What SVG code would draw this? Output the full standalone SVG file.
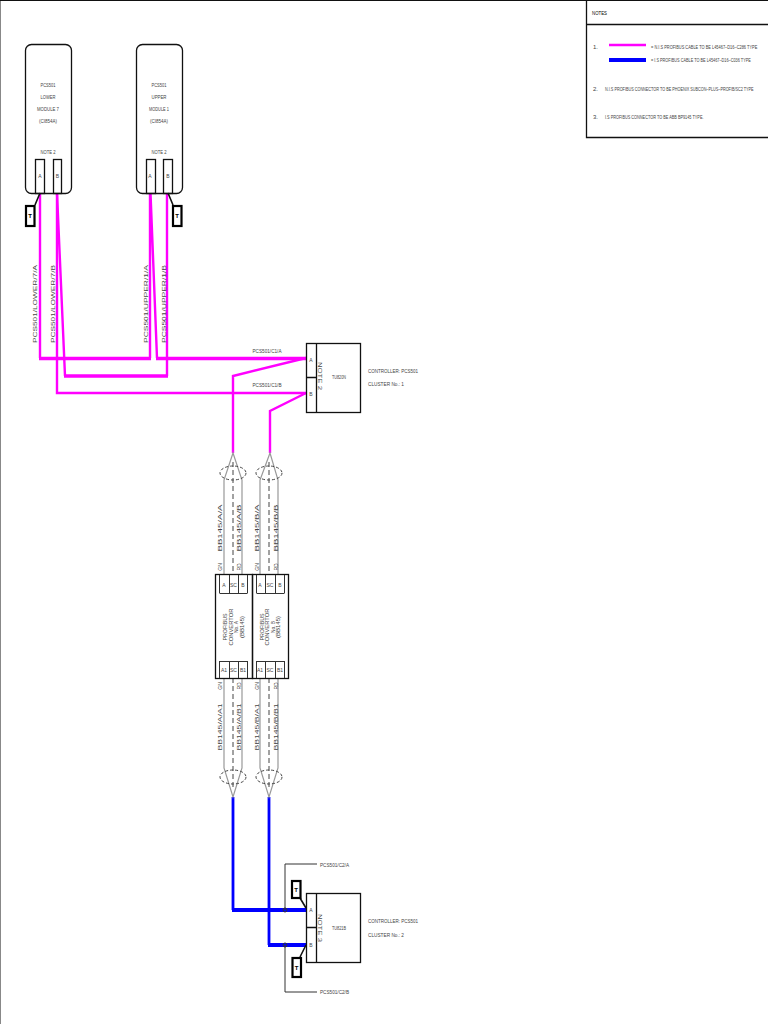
<svg xmlns="http://www.w3.org/2000/svg" width="768" height="1024" viewBox="0 0 768 1024">
<style>
text{font-family:"Liberation Sans",Arial,sans-serif;font-size:6px;fill:#444}
.s{font-size:5px}
.r{font-size:4.500px}
.b{fill:none;stroke:#111;stroke-width:1.3}
.g{fill:none;stroke:#999;stroke-width:1.2}
.k{fill:none;stroke:#333;stroke-width:1}
.h{fill:none;stroke:#111;stroke-width:1.6}
.d{fill:none;stroke:#444;stroke-width:1;stroke-dasharray:5 3}
.e{fill:none;stroke:#444;stroke-width:1;stroke-dasharray:3 2}
.m{fill:none;stroke:#f0f;stroke-width:2.4}
.mt{fill:none;stroke:#f0f;stroke-width:3.6}
.bl{fill:none;stroke:#00f;stroke-width:2.8}
.bt{fill:none;stroke:#00f;stroke-width:4}
.c{text-anchor:middle}
.t{fill:#fff;stroke:#000;stroke-width:2.2}
.tt{font-size:6px;font-weight:bold;fill:#000;text-anchor:middle}
</style>
<rect width="768" height="1024" fill="#fff"/>
<path d="M0.5 0V1024" stroke="#888" stroke-width="1" fill="none"/>
<path d="M0 0.500H768" stroke="#111" stroke-width="1" fill="none"/>

<g id="connectors">
<path class="m" d="M40 193V358M150 193V358M150.500 193L157 358M57 193L65 376M167 193V376"/>
<path class="mt" d="M39 358.500H151M156 358.500H306M64 376H168"/>
<path class="m" d="M57 193V393H306"/>
<path class="m" d="M233 453V376L306 358"/>
<path class="m" d="M270 453V411L306 393"/>
<path class="bl" d="M233 797V910M269 797V945"/>
<path class="bt" d="M232 910H306M268 945H306"/>
<path class="k" d="M285 910V864H317"/>
<path class="k" d="M285 945V992H317"/>
<circle class="k" cx="285" cy="910" r="2"/>
<circle class="k" cx="285" cy="945" r="2"/>
<path class="h" d="M40 193L35 205M168 193L173 205M306 908L300 898M306 945L300 957"/>
</g>

<g id="cables">
<path class="g" d="M224 490V480L233 453L242 480V490M224 490V574M242 490V574"/>
<path class="d" d="M233 462V574"/>
<ellipse class="e" cx="233" cy="473" rx="13" ry="7"/>
<path class="g" d="M260 490V480L270 453L278 480V490M260 490V574M278 490V574"/>
<path class="d" d="M269 462V574"/>
<ellipse class="e" cx="269" cy="473" rx="13" ry="7"/>
<path class="g" d="M224 678V768L233 797L242 768V678"/>
<path class="d" d="M233 678V788"/>
<ellipse class="e" cx="233" cy="777" rx="13" ry="7"/>
<path class="g" d="M260 678V768L269 797L278 768V678"/>
<path class="d" d="M269 678V788"/>
<ellipse class="e" cx="269" cy="777" rx="13" ry="7"/>
<text transform="translate(222 528) rotate(-90)" class="c r" textLength="47" lengthAdjust="spacingAndGlyphs">BB145/A/A</text>
<text transform="translate(241 528) rotate(-90)" class="c r" textLength="47" lengthAdjust="spacingAndGlyphs">BB145/A/B</text>
<text transform="translate(259 528) rotate(-90)" class="c r" textLength="47" lengthAdjust="spacingAndGlyphs">BB145/B/A</text>
<text transform="translate(278 528) rotate(-90)" class="c r" textLength="47" lengthAdjust="spacingAndGlyphs">BB145/B/B</text>
<text transform="translate(222 727) rotate(-90)" class="c r" textLength="47" lengthAdjust="spacingAndGlyphs">BB145/A/A1</text>
<text transform="translate(241 727) rotate(-90)" class="c r" textLength="47" lengthAdjust="spacingAndGlyphs">BB145/A/B1</text>
<text transform="translate(259 727) rotate(-90)" class="c r" textLength="47" lengthAdjust="spacingAndGlyphs">BB145/B/A1</text>
<text transform="translate(278 727) rotate(-90)" class="c r" textLength="47" lengthAdjust="spacingAndGlyphs">BB145/B/B1</text>
<text transform="translate(222 567) rotate(-90)" class="c s">GN</text>
<text transform="translate(241 567) rotate(-90)" class="c s">RD</text>
<text transform="translate(259 567) rotate(-90)" class="c s">GN</text>
<text transform="translate(278 567) rotate(-90)" class="c s">RD</text>
<text transform="translate(222 686) rotate(-90)" class="c s">GN</text>
<text transform="translate(241 686) rotate(-90)" class="c s">RD</text>
<text transform="translate(259 686) rotate(-90)" class="c s">GN</text>
<text transform="translate(278 686) rotate(-90)" class="c s">RD</text>
</g>

<g id="cable-labels">
<text transform="translate(37 304) rotate(-90)" class="c r" textLength="78" lengthAdjust="spacingAndGlyphs">PCS501/LOWER/7/A</text>
<text transform="translate(55 304) rotate(-90)" class="c r" textLength="78" lengthAdjust="spacingAndGlyphs">PCS501/LOWER/7/B</text>
<text transform="translate(148 304) rotate(-90)" class="c r" textLength="78" lengthAdjust="spacingAndGlyphs">PCS501/UPPER/1/A</text>
<text transform="translate(166 304) rotate(-90)" class="c r" textLength="78" lengthAdjust="spacingAndGlyphs">PCS501/UPPER/1/B</text>
<text x="267" y="353" class="c" textLength="29" lengthAdjust="spacingAndGlyphs">PCS501/C1/A</text>
<text x="267" y="387" class="c" textLength="29" lengthAdjust="spacingAndGlyphs">PCS501/C1/B</text>
<text x="320" y="867" textLength="29" lengthAdjust="spacingAndGlyphs">PCS501/C2/A</text>
<text x="320" y="994" textLength="29" lengthAdjust="spacingAndGlyphs">PCS501/C2/B</text>
</g>

<g id="module-lower">
<rect class="b" x="25.500" y="44.500" width="46" height="149" rx="6"/>
<rect class="b" x="35.500" y="159.500" width="9" height="34"/>
<rect class="b" x="53.500" y="159.500" width="8" height="34"/>
<text x="48" y="87" class="c" textLength="15" lengthAdjust="spacingAndGlyphs">PCS501</text>
<text x="48" y="99" class="c" textLength="15" lengthAdjust="spacingAndGlyphs">LOWER</text>
<text x="48" y="111" class="c" textLength="22" lengthAdjust="spacingAndGlyphs">MODULE 7</text>
<text x="48" y="123" class="c" textLength="18" lengthAdjust="spacingAndGlyphs">(CI854A)</text>
<text x="48" y="154" class="c" textLength="15" lengthAdjust="spacingAndGlyphs">NOTE 2</text>
<text x="40" y="178" class="c s">A</text>
<text x="57.500" y="178" class="c s">B</text>
</g>
<g id="module-upper">
<rect class="b" x="136.500" y="44.500" width="46" height="149" rx="6"/>
<rect class="b" x="146.500" y="159.500" width="9" height="34"/>
<rect class="b" x="163.500" y="159.500" width="9" height="34"/>
<text x="159" y="87" class="c" textLength="15" lengthAdjust="spacingAndGlyphs">PCS501</text>
<text x="159" y="99" class="c" textLength="15" lengthAdjust="spacingAndGlyphs">UPPER</text>
<text x="159" y="111" class="c" textLength="20" lengthAdjust="spacingAndGlyphs">MODULE 1</text>
<text x="159" y="123" class="c" textLength="18" lengthAdjust="spacingAndGlyphs">(CI854A)</text>
<text x="159" y="154" class="c" textLength="15" lengthAdjust="spacingAndGlyphs">NOTE 2</text>
<text x="150" y="178" class="c s">A</text>
<text x="168" y="178" class="c s">B</text>
</g>
<g id="term-1"><rect class="t" x="26" y="206" width="8.500" height="20"/><text x="30.200" y="218" class="tt">T</text></g>
<g id="term-2"><rect class="t" x="173" y="206" width="8.500" height="20"/><text x="177.200" y="218" class="tt">T</text></g>
<g id="term-3"><rect class="t" x="292" y="881" width="8.500" height="17"/><text x="296.200" y="892" class="tt">T</text></g>
<g id="term-4"><rect class="t" x="292.500" y="958" width="8.500" height="19"/><text x="296.700" y="970" class="tt">T</text></g>

<g id="controller-1">
<rect class="b" x="306.500" y="343.500" width="54" height="69"/>
<path class="b" d="M316.500 343V412M307 377.500H316"/>
<text x="311" y="362" class="c s">A</text>
<text x="311" y="396" class="c s">B</text>
<text transform="translate(317.500 376) rotate(90)" class="c r" textLength="28" lengthAdjust="spacingAndGlyphs">NOTE 2</text>
<text x="339" y="379" class="c" textLength="14" lengthAdjust="spacingAndGlyphs">TU820N</text>
<text x="368" y="373" textLength="50" lengthAdjust="spacingAndGlyphs">CONTROLLER: PCS501</text>
<text x="368" y="386" textLength="36" lengthAdjust="spacingAndGlyphs">CLUSTER No.: 1</text>
</g>
<g id="controller-2">
<rect class="b" x="306.500" y="893.500" width="54" height="69"/>
<path class="b" d="M316.500 893V962M307 927.500H316"/>
<text x="311" y="912" class="c s">A</text>
<text x="311" y="947" class="c s">B</text>
<text transform="translate(317.500 928) rotate(90)" class="c r" textLength="28" lengthAdjust="spacingAndGlyphs">NOTE 3</text>
<text x="339" y="930" class="c" textLength="14" lengthAdjust="spacingAndGlyphs">TU821B</text>
<text x="368" y="923" textLength="50" lengthAdjust="spacingAndGlyphs">CONTROLLER: PCS501</text>
<text x="368" y="937" textLength="36" lengthAdjust="spacingAndGlyphs">CLUSTER No.: 2</text>
</g>

<g id="converter-a">
<rect class="b" x="215.500" y="574.500" width="37" height="104"/>
<path class="k" d="M219.500 593.500H247.500M229.500 575V593M238.500 575V593M219.500 575V593M247.500 575V593"/>
<path class="k" d="M219.500 661.500H247.500M229.500 661V678M238.500 661V678M219.500 661V678M247.500 661V678"/>
<text x="224" y="587" class="c s">A</text><text x="233.500" y="587" class="c s">SC</text><text x="243" y="587" class="c s">B</text>
<text x="224" y="672" class="c s">A1</text><text x="233.500" y="672" class="c s">SC</text><text x="243" y="672" class="c s">B1</text>
<text transform="translate(227 627) rotate(-90)" class="c r" textLength="27" lengthAdjust="spacingAndGlyphs">PROFIBUS</text>
<text transform="translate(232.500 627) rotate(-90)" class="c r" textLength="37" lengthAdjust="spacingAndGlyphs">CONVERTOR</text>
<text transform="translate(238 627) rotate(-90)" class="c r" textLength="12" lengthAdjust="spacingAndGlyphs">No. A</text>
<text transform="translate(243.500 627) rotate(-90)" class="c r" textLength="22" lengthAdjust="spacingAndGlyphs">(BB145)</text>
</g>
<g id="converter-b">
<rect class="b" x="252.500" y="574.500" width="36" height="104"/>
<path class="k" d="M256.500 593.500H284.500M265.500 575V593M275.500 575V593M256.500 575V593M284.500 575V593"/>
<path class="k" d="M256.500 661.500H284.500M265.500 661V678M275.500 661V678M256.500 661V678M284.500 661V678"/>
<text x="260" y="587" class="c s">A</text><text x="270" y="587" class="c s">SC</text><text x="280" y="587" class="c s">B</text>
<text x="260" y="672" class="c s">A1</text><text x="270" y="672" class="c s">SC</text><text x="280" y="672" class="c s">B1</text>
<text transform="translate(263.500 627) rotate(-90)" class="c r" textLength="27" lengthAdjust="spacingAndGlyphs">PROFIBUS</text>
<text transform="translate(269 627) rotate(-90)" class="c r" textLength="37" lengthAdjust="spacingAndGlyphs">CONVERTOR</text>
<text transform="translate(274.500 627) rotate(-90)" class="c r" textLength="12" lengthAdjust="spacingAndGlyphs">No. B</text>
<text transform="translate(280 627) rotate(-90)" class="c r" textLength="22" lengthAdjust="spacingAndGlyphs">(BB145)</text>
</g>

<g id="notes">
<path class="b" d="M586.500 0V137.500H768M586 24.500H768"/>
<text x="592" y="15" textLength="15" lengthAdjust="spacingAndGlyphs" style="fill:#000">NOTES</text>
<text x="593" y="49">1.</text>
<path d="M609 45H646" stroke="#f0f" stroke-width="2.4"/>
<path d="M609 60H646" stroke="#00f" stroke-width="4"/>
<text transform="translate(651 49) scale(.655 1)">= N.I.S PROFIBUS CABLE TO BE L45467–D16–C286 TYPE</text>
<text transform="translate(651 62) scale(.64 1)">= I.S PROFIBUS CABLE TO BE L45467–D16–C036 TYPE</text>
<text x="593" y="91">2.</text>
<text transform="translate(605 91) scale(.63 1)">N.I.S PROFIBUS CONNECTOR TO BE PHOENIX SUBCON–PLUS–PROFIB/SC2 TYPE</text>
<text x="593" y="119">3.</text>
<text transform="translate(605 119) scale(.64 1)">I.S PROFIBUS CONNECTOR TO BE ABB BP9145 TYPE.</text>
</g>
</svg>
